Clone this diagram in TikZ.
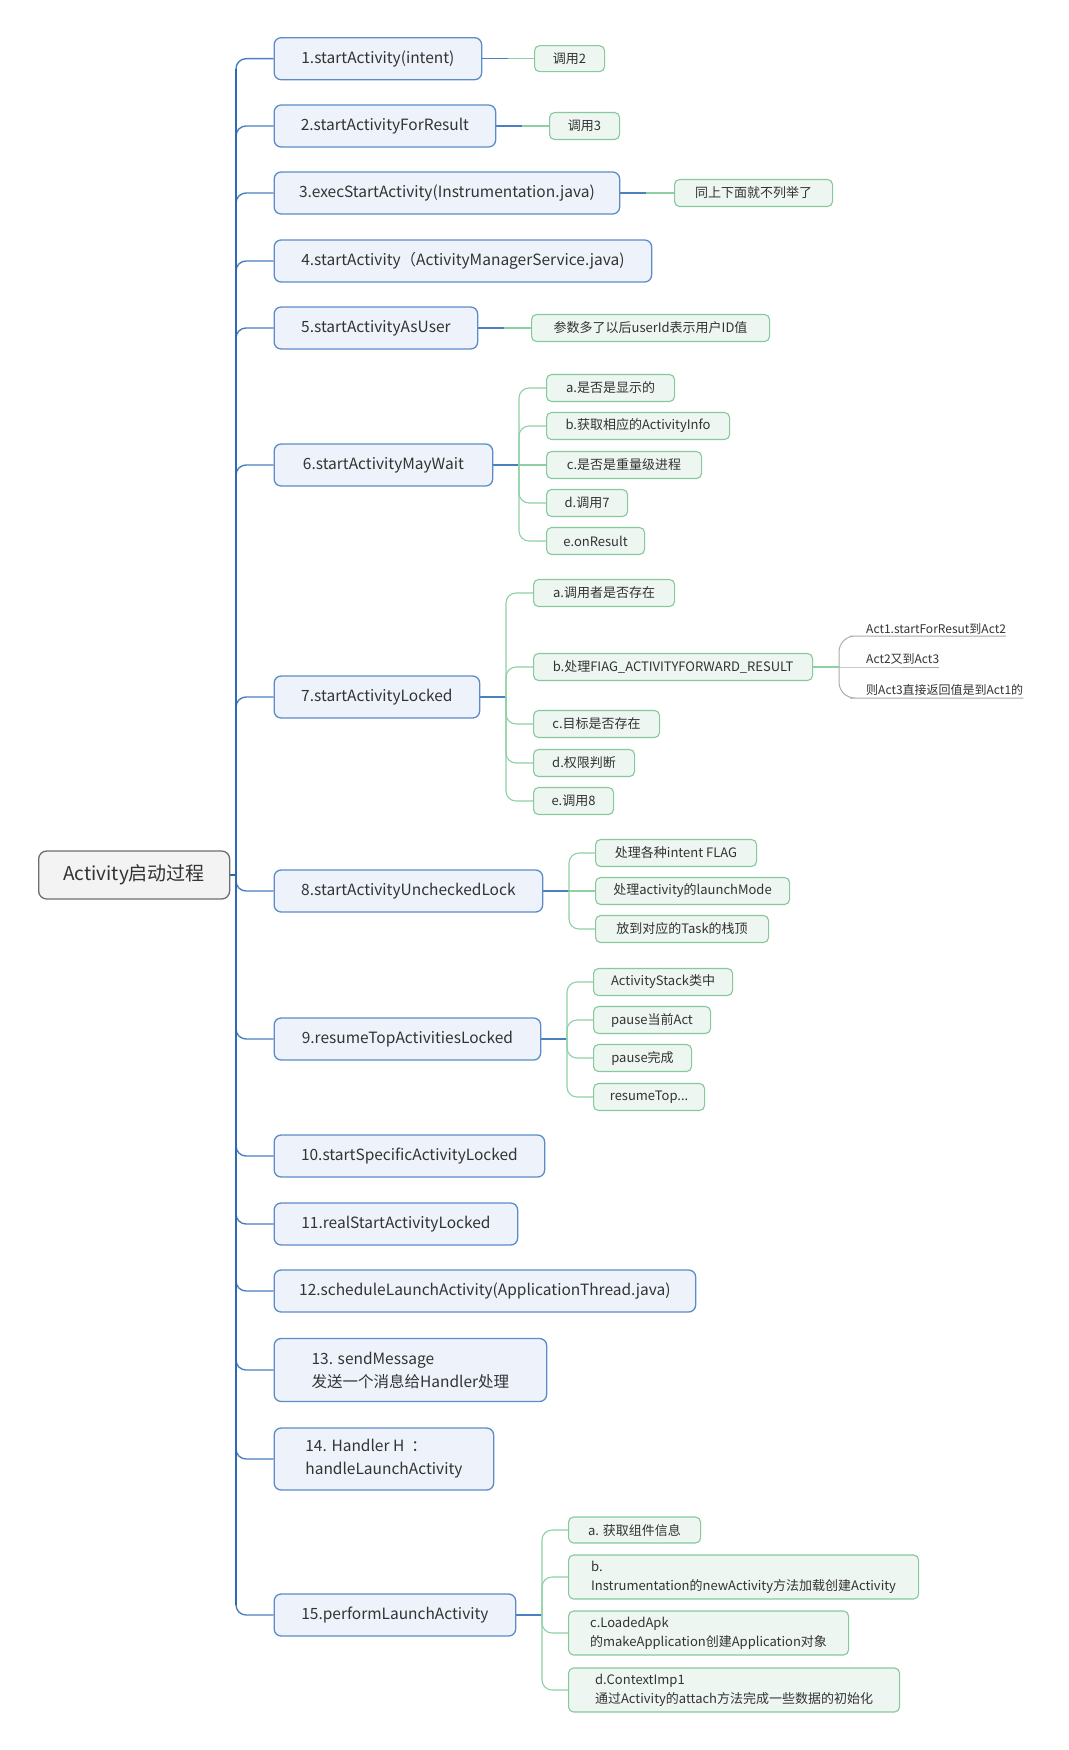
\documentclass[tikz,border=0pt]{standalone}
\usepackage{fontspec}
\setmainfont{Noto Sans CJK SC}
\usetikzlibrary{backgrounds}
\definecolor{lonefill}{HTML}{EEF3FB}
\definecolor{loneborder}{HTML}{5B8CC8}
\definecolor{lineblue}{HTML}{4A80C0}
\definecolor{trunkblue}{HTML}{2E6AB0}
\definecolor{ctwofill}{HTML}{EDF6F0}
\definecolor{ctwoborder}{HTML}{86C99D}
\definecolor{linegreen}{HTML}{8ED0A4}
\definecolor{rootfill}{HTML}{F3F3F3}
\definecolor{rootborder}{HTML}{6E6E6E}
\definecolor{txt}{HTML}{333333}
\definecolor{actline}{HTML}{AAAAAA}
\begin{document}
\begin{tikzpicture}[x=1pt,y=-1pt,
  rootbox/.style={draw=rootborder,fill=rootfill,line width=1.3pt,rounded corners=8pt,
    minimum width=191pt,minimum height=48pt,inner sep=0pt,anchor=west,text=txt,
    font=\fontsize{19}{23}\selectfont},
  lonebox/.style={draw=loneborder,fill=lonefill,line width=1.3pt,rounded corners=7pt,
    minimum height=42pt,inner sep=0pt,anchor=west,align=left,text=txt,
    font=\fontsize{15.5}{23}\selectfont},
  ctwobox/.style={draw=ctwoborder,fill=ctwofill,line width=1.1pt,rounded corners=5pt,
    minimum height=27pt,inner sep=0pt,anchor=west,align=left,text=txt,
    font=\fontsize{13}{19}\selectfont},
  acttext/.style={inner xsep=0pt,inner ysep=2pt,anchor=south west,text=txt,
    font=\fontsize{12}{14}\selectfont},
  bline/.style={draw=lineblue,line width=1.4pt,rounded corners=10pt},
  gline/.style={draw=linegreen,line width=1.1pt,rounded corners=10pt},
  aline/.style={draw=actline,line width=1pt,rounded corners=16pt}
]
\useasboundingbox (0,0) rectangle (1068,1750);

% root
\node[rootbox] (root) at (38,875) {Activity启动过程};
\coordinate (hub) at (236,875);
\coordinate (ttop) at (236,69);
\coordinate (tbot) at (236,1605);

% level one
\node[lonebox,minimum width=207.5pt] (b1) at (273.5,58.7) {1.startActivity(intent)};
\node[lonebox,minimum width=221.5pt] (b2) at (273.5,126) {2.startActivityForResult};
\node[lonebox,minimum width=345.5pt] (b3) at (273.5,193) {3.execStartActivity(Instrumentation.java)};
\node[lonebox,minimum width=377.5pt] (b4) at (273.5,261) {4.startActivity（ActivityManagerService.java)};
\node[lonebox,minimum width=203.5pt] (b5) at (273.5,328) {5.startActivityAsUser};
\node[lonebox,minimum width=218.5pt] (b6) at (273.5,465) {6.startActivityMayWait};
\node[lonebox,minimum width=205.5pt] (b7) at (273.5,697) {7.startActivityLocked};
\node[lonebox,minimum width=268.5pt] (b8) at (273.5,891) {8.startActivityUncheckedLock};
\node[lonebox,minimum width=266.5pt] (b9) at (273.5,1039) {9.resumeTopActivitiesLocked};
\node[lonebox,minimum width=270.5pt] (b10) at (273.5,1156) {10.startSpecificActivityLocked};
\node[lonebox,minimum width=243.5pt] (b11) at (273.5,1224) {11.realStartActivityLocked};
\node[lonebox,minimum width=421.5pt] (b12) at (273.5,1291) {12.scheduleLaunchActivity(ApplicationThread.java)};
\node[lonebox,minimum width=272.5pt,minimum height=63pt] (b13) at (273.5,1370) {13. sendMessage\\发送一个消息给Handler处理};
\node[lonebox,minimum width=219.5pt,minimum height=62pt] (b14) at (273.5,1459) {14. Handler H \ ：\\handleLaunchActivity};
\node[lonebox,minimum width=241.5pt] (b15) at (273.5,1615) {15.performLaunchActivity};

% children
\node[ctwobox,minimum width=70pt,minimum height=26pt] (c1) at (534,58.7) {调用2};
\node[ctwobox,minimum width=70pt] (c2) at (549,126) {调用3};
\node[ctwobox,minimum width=158pt] (c3) at (674,193) {同上下面就不列举了};
\node[ctwobox,minimum width=238pt] (c5) at (531,328) {参数多了以后userId表示用户ID值};

\node[ctwobox,minimum width=128pt] (c6a) at (546,388) {a.是否是显示的};
\node[ctwobox,minimum width=183pt] (c6b) at (546,426) {b.获取相应的ActivityInfo};
\node[ctwobox,minimum width=155pt] (c6c) at (546,465) {c.是否是重量级进程};
\node[ctwobox,minimum width=81pt] (c6d) at (546,503) {d.调用7};
\node[ctwobox,minimum width=98pt] (c6e) at (546,541) {e.onResult};

\node[ctwobox,minimum width=141pt] (c7a) at (533,593) {a.调用者是否存在};
\node[ctwobox,minimum width=279pt] (c7b) at (533,667) {b.处理FIAG\_ACTIVITYFORWARD\_RESULT};
\node[ctwobox,minimum width=126pt] (c7c) at (533,724) {c.目标是否存在};
\node[ctwobox,minimum width=101pt] (c7d) at (533,763) {d.权限判断};
\node[ctwobox,minimum width=80pt] (c7e) at (533,801) {e.调用8};

\node[acttext] (x1) at (866,636) {Act1.startForResut到Act2};
\node[acttext] (x2) at (866,667) {Act2又到Act3};
\node[acttext] (x3) at (866,698) {则Act3直接返回值是到Act1的};

\node[ctwobox,minimum width=161pt] (c8a) at (595,853) {处理各种intent FLAG};
\node[ctwobox,minimum width=194pt] (c8b) at (595,891) {处理activity的launchMode};
\node[ctwobox,minimum width=173pt] (c8c) at (595,929) {放到对应的Task的栈顶};

\node[ctwobox,minimum width=139pt] (c9a) at (593,982) {ActivityStack类中};
\node[ctwobox,minimum width=117pt] (c9b) at (593,1020) {pause当前Act};
\node[ctwobox,minimum width=98pt] (c9c) at (593,1058) {pause完成};
\node[ctwobox,minimum width=111pt] (c9d) at (593,1097) {resumeTop...};

\node[ctwobox,minimum width=132pt,minimum height=26pt] (c15a) at (568,1530) {a. 获取组件信息};
\node[ctwobox,minimum width=350pt,minimum height=44pt] (c15b) at (568,1577) {b.\\Instrumentation的newActivity方法加载创建Activity};
\node[ctwobox,minimum width=280pt,minimum height=44pt] (c15c) at (568,1633) {c.LoadedApk\\的makeApplication创建Application对象};
\node[ctwobox,minimum width=331pt,minimum height=44pt] (c15d) at (568,1690) {d.ContextImp1\\通过Activity的attach方法完成一些数据的初始化};

% hubs of the child brackets
\coordinate (h1) at (508,58.7);
\coordinate (h2) at (522,126);
\coordinate (h3) at (646,193);
\coordinate (h5) at (504,328);
\coordinate (h6) at (519,465);
\coordinate (h7) at (506,697);
\coordinate (h7b) at (839,667);
\coordinate (h8) at (569,891);
\coordinate (h9) at (567,1039);
\coordinate (h15) at (542,1615);

\begin{scope}[on background layer]
  % trunk and branches
  \draw[draw=trunkblue,line width=2pt] (root.east) -- (hub);
  \foreach \b in {b1,b2,b3,b4,b5,b6,b7,b8,b9,b10,b11,b12,b13,b14,b15}
    \draw[bline] (hub) |- (\b.west);
  \draw[draw=trunkblue,line width=2pt] (ttop) -- (tbot);
  % stubs from level one boxes
  \foreach \b/\h in {b1/h1,b2/h2,b3/h3,b5/h5,b6/h6,b7/h7,b8/h8,b9/h9,b15/h15}
    \draw[draw=lineblue,line width=1.3pt] (\b.east) -- (\h);
  % green connectors in line with their parent
  \foreach \h/\c in {h1/c1,h2/c2,h3/c3,h5/c5,h6/c6c,h8/c8b}
    \draw[draw=linegreen,line width=1.1pt] (\h) -- (\c.west);
  % green brackets
  \foreach \h/\c in {h6/c6a,h6/c6b,h6/c6d,h6/c6e,
      h7/c7a,h7/c7b,h7/c7c,h7/c7d,h7/c7e,
      h8/c8a,h8/c8c,
      h9/c9a,h9/c9b,h9/c9c,h9/c9d,
      h15/c15a,h15/c15b,h15/c15c,h15/c15d}
    \draw[gline] (\h) |- (\c.west);
  % act items
  \draw[draw=linegreen,line width=1.1pt] (c7b.east) -- (h7b);
  \draw[aline] (h7b) |- (x1.south west) -- (x1.south east);
  \draw[draw=actline,line width=1pt] (h7b) -- (x2.south west) -- (x2.south east);
  \draw[aline] (h7b) |- (x3.south west) -- (x3.south east);
\end{scope}
\end{tikzpicture}
\end{document}
